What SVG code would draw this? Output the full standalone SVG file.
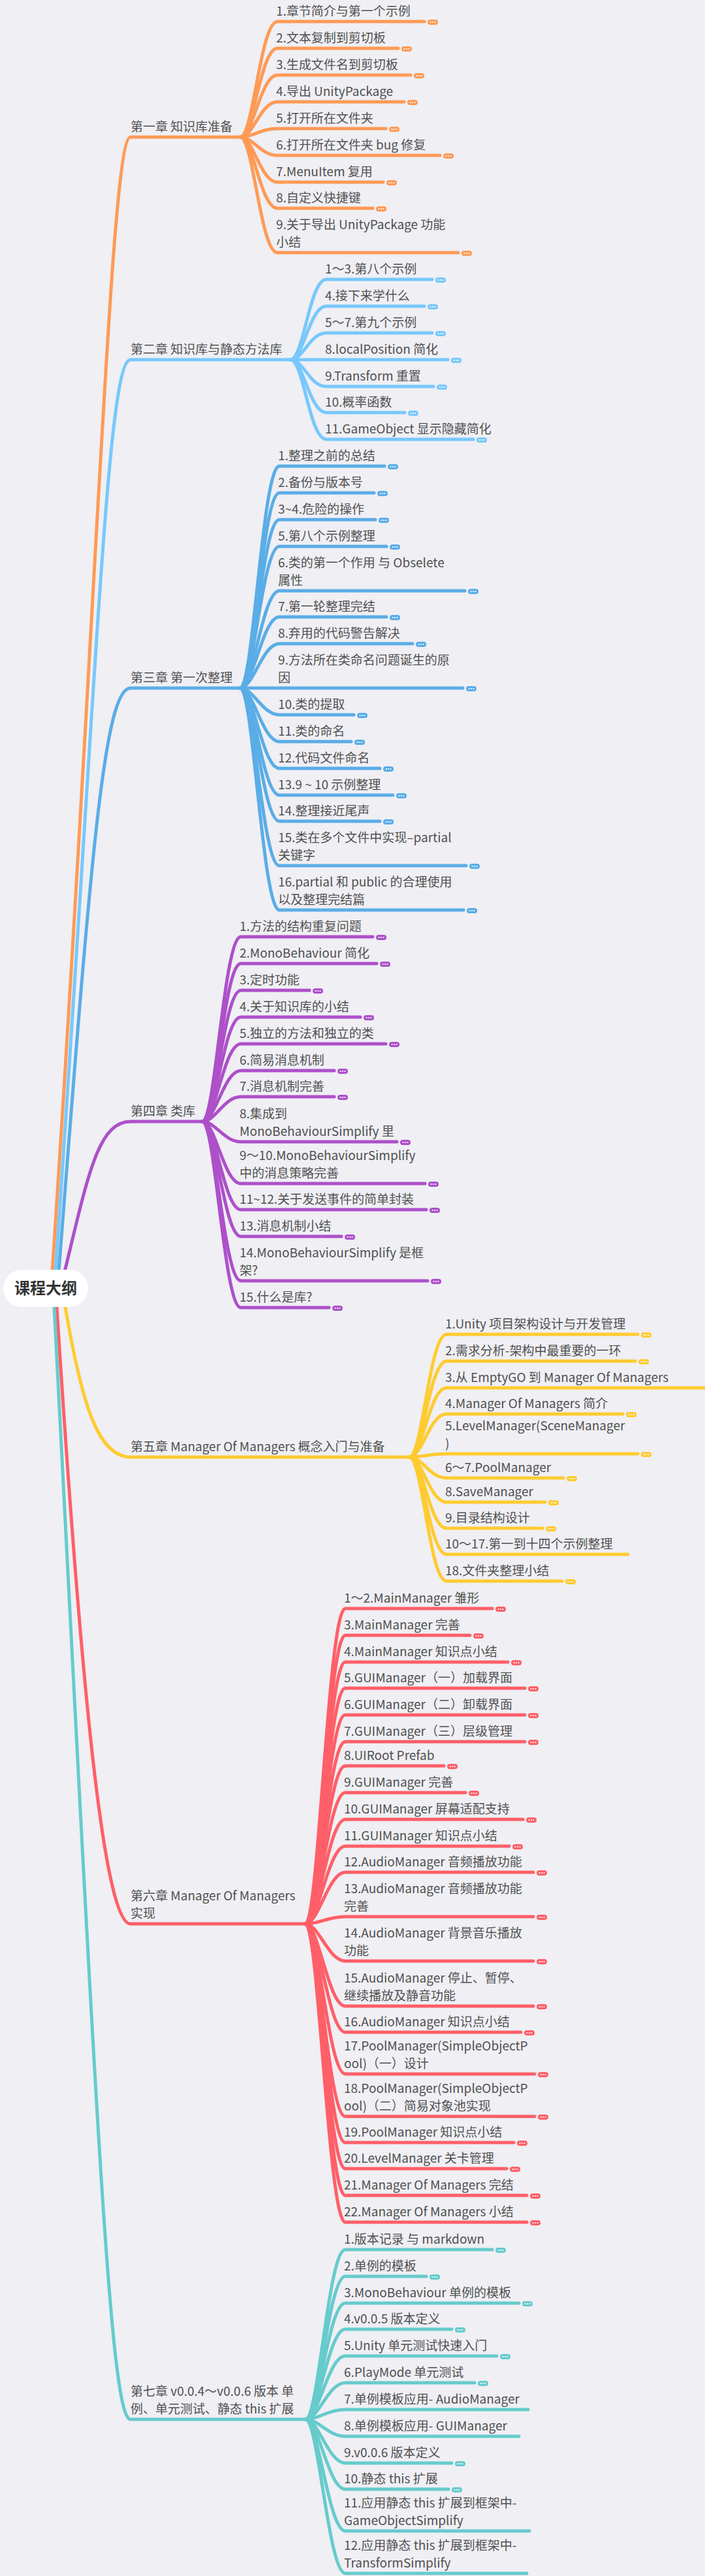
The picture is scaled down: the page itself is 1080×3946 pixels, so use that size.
<svg xmlns="http://www.w3.org/2000/svg" xmlns:xlink="http://www.w3.org/1999/xlink" width="1080" height="3946" viewBox="0 0 1080 3946">
<style>
.t{font-family:"Noto Sans CJK SC","Liberation Sans",sans-serif;font-size:19px;fill:#505050}
.r{font-family:"Noto Sans CJK SC","Liberation Sans",sans-serif;font-size:24px;font-weight:bold;fill:#333}
#cn path{fill:none;stroke-width:5;stroke-linecap:round;stroke-linejoin:round}
.c1{stroke:#ff9a56;color:#ff9a56}.c2{stroke:#78c8fb;color:#78c8fb}.c3{stroke:#5aade6;color:#5aade6}.c4{stroke:#ad50c9;color:#ad50c9}.c5{stroke:#ffcb30;color:#ffcb30}.c6{stroke:#ff5f68;color:#ff5f68}.c7{stroke:#66cbcc;color:#66cbcc}
</style>
<defs>
<symbol id="dt" overflow="visible"><rect x="0" y="0" width="16" height="8" rx="4" fill="currentColor"/><circle cx="4.6" cy="4" r="1.1" fill="#fff"/><circle cx="8" cy="4" r="1.1" fill="#fff"/><circle cx="11.4" cy="4" r="1.1" fill="#fff"/></symbol>
</defs>
<rect width="1080" height="3946" fill="#efeff4"/>
<g id="cn">
<path class="c1" d="M80 1948C150 900 170 210 200 210L368 210"/>
<path class="c2" d="M85 1948C150 1000 165 551 200 551L445 551"/>
<path class="c3" d="M90 1948C140 1300 160 1054 200 1054L368 1054"/>
<path class="c4" d="M99 1948C135 1800 150 1718 200 1718L310 1718"/>
<path class="c5" d="M100 2002C125 2150 150 2232 200 2232L627 2232"/>
<path class="c6" d="M87 2002C125 2600 160 2947 200 2947L468 2947"/>
<path class="c7" d="M83 2002C150 3300 170 3706 200 3706L468 3706"/>
<g class="c1">
<path d="M368 210C388 210 399 33 425 33L650 33"/><path d="M368 210C388 210 399 74 425 74L610 74"/><path d="M368 210C388 210 399 115 425 115L629 115"/><path d="M368 210C388 210 399 156 425 156L619 156"/><path d="M368 210C388 210 399 197 425 197L591 197"/><path d="M368 210C388 210 399 238 425 238L674 238"/><path d="M368 210C388 210 399 279 425 279L587 279"/><path d="M368 210C388 210 399 319 425 319L571 319"/><path d="M368 210C388 210 399 387 425 387L702 387"/>
</g>
<g class="c2">
<path d="M445 551C465 551 474 428 500 428L662 428"/><path d="M445 551C465 551 474 469 500 469L650 469"/><path d="M445 551C465 551 474 510 500 510L662 510"/><path d="M445 551L686 551"/><path d="M445 551C465 551 474 592 500 592L664 592"/><path d="M445 551C465 551 474 632 500 632L620 632"/><path d="M445 551C465 551 474 673 500 673L725 673"/>
</g>
<g class="c3">
<path d="M368 1054C388 1054 402 714 428 714L589 714"/><path d="M368 1054C388 1054 402 755 428 755L573 755"/><path d="M368 1054C388 1054 402 796 428 796L575 796"/><path d="M368 1054C388 1054 402 837 428 837L592 837"/><path d="M368 1054C388 1054 402 905 428 905L712 905"/><path d="M368 1054C388 1054 402 945 428 945L592 945"/><path d="M368 1054C388 1054 402 986 428 986L632 986"/><path d="M368 1054L709 1054"/><path d="M368 1054C388 1054 402 1095 428 1095L542 1095"/><path d="M368 1054C388 1054 402 1136 428 1136L538 1136"/><path d="M368 1054C388 1054 402 1177 428 1177L582 1177"/><path d="M368 1054C388 1054 402 1218 428 1218L602 1218"/><path d="M368 1054C388 1054 402 1258 428 1258L582 1258"/><path d="M368 1054C388 1054 402 1326 428 1326L714 1326"/><path d="M368 1054C388 1054 402 1394 428 1394L710 1394"/>
</g>
<g class="c4">
<path d="M310 1718C330 1718 343 1435 369 1435L571 1435"/><path d="M310 1718C330 1718 343 1476 369 1476L577 1476"/><path d="M310 1718C330 1718 343 1517 369 1517L474 1517"/><path d="M310 1718C330 1718 343 1558 369 1558L552 1558"/><path d="M310 1718C330 1718 343 1599 369 1599L591 1599"/><path d="M310 1718C330 1718 343 1640 369 1640L512 1640"/><path d="M310 1718C330 1718 343 1680 369 1680L512 1680"/><path d="M310 1718C330 1718 343 1749 369 1749L608 1749"/><path d="M310 1718C330 1718 343 1813 369 1813L651 1813"/><path d="M310 1718C330 1718 343 1853 369 1853L653 1853"/><path d="M310 1718C330 1718 343 1894 369 1894L523 1894"/><path d="M310 1718C330 1718 343 1962 369 1962L655 1962"/><path d="M310 1718C330 1718 343 2003 369 2003L504 2003"/>
</g>
<g class="c5">
<path d="M627 2232C647 2232 658 2044 684 2044L977 2044"/><path d="M627 2232C647 2232 658 2085 684 2085L973 2085"/><path d="M627 2232C647 2232 658 2126 684 2126L1080 2126"/><path d="M627 2232C647 2232 658 2166 684 2166L954 2166"/><path d="M627 2232C647 2232 658 2227 684 2227L977 2227"/><path d="M627 2232C647 2232 658 2264 684 2264L863 2264"/><path d="M627 2232C647 2232 658 2301 684 2301L835 2301"/><path d="M627 2232C647 2232 658 2341 684 2341L831 2341"/><path d="M627 2232C647 2232 658 2381 684 2381L962 2381"/><path d="M627 2232C647 2232 658 2422 684 2422L861 2422"/>
</g>
<g class="c6">
<path d="M468 2947C488 2947 503 2464 529 2464L754 2464"/><path d="M468 2947C488 2947 503 2505 529 2505L720 2505"/><path d="M468 2947C488 2947 503 2546 529 2546L778 2546"/><path d="M468 2947C488 2947 503 2586 529 2586L804 2586"/><path d="M468 2947C488 2947 503 2627 529 2627L804 2627"/><path d="M468 2947C488 2947 503 2668 529 2668L804 2668"/><path d="M468 2947C488 2947 503 2705 529 2705L680 2705"/><path d="M468 2947C488 2947 503 2746 529 2746L713 2746"/><path d="M468 2947C488 2947 503 2787 529 2787L801 2787"/><path d="M468 2947C488 2947 503 2828 529 2828L780 2828"/><path d="M468 2947C488 2947 503 2868 529 2868L817 2868"/><path d="M468 2947C488 2947 503 2936 529 2936L817 2936"/><path d="M468 2947C488 2947 503 3004 529 3004L817 3004"/><path d="M468 2947C488 2947 503 3073 529 3073L817 3073"/><path d="M468 2947C488 2947 503 3113 529 3113L798 3113"/><path d="M468 2947C488 2947 503 3177 529 3177L819 3177"/><path d="M468 2947C488 2947 503 3242 529 3242L819 3242"/><path d="M468 2947C488 2947 503 3282 529 3282L787 3282"/><path d="M468 2947C488 2947 503 3322 529 3322L776 3322"/><path d="M468 2947C488 2947 503 3363 529 3363L807 3363"/><path d="M468 2947C488 2947 503 3404 529 3404L807 3404"/>
</g>
<g class="c7">
<path d="M468 3706C488 3706 503 3446 529 3446L754 3446"/><path d="M468 3706C488 3706 503 3487 529 3487L653 3487"/><path d="M468 3706C488 3706 503 3528 529 3528L795 3528"/><path d="M468 3706C488 3706 503 3568 529 3568L692 3568"/><path d="M468 3706C488 3706 503 3609 529 3609L761 3609"/><path d="M468 3706C488 3706 503 3650 529 3650L727 3650"/><path d="M468 3706C488 3706 503 3691 529 3691L809 3691"/><path d="M468 3706C488 3706 503 3732 529 3732L795 3732"/><path d="M468 3706C488 3706 503 3773 529 3773L692 3773"/><path d="M468 3706C488 3706 503 3813 529 3813L687 3813"/><path d="M468 3706C488 3706 503 3877 529 3877L811 3877"/><path d="M468 3706C488 3706 503 3942 529 3942L807 3942"/>
</g>
</g>
<g id="root"><rect x="5" y="1945" width="130" height="57" rx="28" fill="#fff"/><text class="r" x="70" y="1982" text-anchor="middle">课程大纲</text></g>
<g id="ch1"><text class="t" x="200" y="201">第一章 知识库准备</text></g>
<g id="ch2"><text class="t" x="200" y="542">第二章 知识库与静态方法库</text></g>
<g id="ch3"><text class="t" x="200" y="1045">第三章 第一次整理</text></g>
<g id="ch4"><text class="t" x="200" y="1709">第四章 类库</text></g>
<g id="ch5"><text class="t" x="200" y="2223">第五章 Manager Of Managers 概念入门与准备</text></g>
<g id="ch6"><text class="t" x="200" y="2911">第六章 Manager Of Managers</text><text class="t" x="200" y="2938">实现</text></g>
<g id="ch7"><text class="t" x="200" y="3670">第七章 v0.0.4～v0.0.6 版本 单</text><text class="t" x="200" y="3697">例、单元测试、静态 this 扩展</text></g>
<g id="ch1-leaves" color="#ff9a56">
<g id="n1-1"><text class="t" x="423" y="24">1.章节简介与第一个示例</text><use href="#dt" x="655" y="30"/></g>
<g id="n1-2"><text class="t" x="423" y="65">2.文本复制到剪切板</text><use href="#dt" x="615" y="71"/></g>
<g id="n1-3"><text class="t" x="423" y="106">3.生成文件名到剪切板</text><use href="#dt" x="634" y="112"/></g>
<g id="n1-4"><text class="t" x="423" y="147">4.导出 UnityPackage</text><use href="#dt" x="624" y="153"/></g>
<g id="n1-5"><text class="t" x="423" y="188">5.打开所在文件夹</text><use href="#dt" x="596" y="194"/></g>
<g id="n1-6"><text class="t" x="423" y="229">6.打开所在文件夹 bug 修复</text><use href="#dt" x="679" y="235"/></g>
<g id="n1-7"><text class="t" x="423" y="270">7.MenuItem 复用</text><use href="#dt" x="592" y="276"/></g>
<g id="n1-8"><text class="t" x="423" y="310">8.自定义快捷键</text><use href="#dt" x="576" y="316"/></g>
<g id="n1-9"><text class="t" x="423" y="351">9.关于导出 UnityPackage 功能</text><text class="t" x="423" y="378">小结</text><use href="#dt" x="707" y="384"/></g>
</g>
<g id="ch2-leaves" color="#78c8fb">
<g id="n2-1"><text class="t" x="498" y="419">1～3.第八个示例</text><use href="#dt" x="667" y="425"/></g>
<g id="n2-2"><text class="t" x="498" y="460">4.接下来学什么</text><use href="#dt" x="655" y="466"/></g>
<g id="n2-3"><text class="t" x="498" y="501">5～7.第九个示例</text><use href="#dt" x="667" y="507"/></g>
<g id="n2-4"><text class="t" x="498" y="542">8.localPosition 简化</text><use href="#dt" x="691" y="548"/></g>
<g id="n2-5"><text class="t" x="498" y="583">9.Transform 重置</text><use href="#dt" x="669" y="589"/></g>
<g id="n2-6"><text class="t" x="498" y="623">10.概率函数</text><use href="#dt" x="625" y="629"/></g>
<g id="n2-7"><text class="t" x="498" y="664">11.GameObject 显示隐藏简化</text><use href="#dt" x="730" y="670"/></g>
</g>
<g id="ch3-leaves" color="#5aade6">
<g id="n3-1"><text class="t" x="426" y="705">1.整理之前的总结</text><use href="#dt" x="594" y="711"/></g>
<g id="n3-2"><text class="t" x="426" y="746">2.备份与版本号</text><use href="#dt" x="578" y="752"/></g>
<g id="n3-3"><text class="t" x="426" y="787">3~4.危险的操作</text><use href="#dt" x="580" y="793"/></g>
<g id="n3-4"><text class="t" x="426" y="828">5.第八个示例整理</text><use href="#dt" x="597" y="834"/></g>
<g id="n3-5"><text class="t" x="426" y="869">6.类的第一个作用 与 Obselete</text><text class="t" x="426" y="896">属性</text><use href="#dt" x="717" y="902"/></g>
<g id="n3-6"><text class="t" x="426" y="936">7.第一轮整理完结</text><use href="#dt" x="597" y="942"/></g>
<g id="n3-7"><text class="t" x="426" y="977">8.弃用的代码警告解决</text><use href="#dt" x="637" y="983"/></g>
<g id="n3-8"><text class="t" x="426" y="1018">9.方法所在类命名问题诞生的原</text><text class="t" x="426" y="1045">因</text><use href="#dt" x="714" y="1051"/></g>
<g id="n3-9"><text class="t" x="426" y="1086">10.类的提取</text><use href="#dt" x="547" y="1092"/></g>
<g id="n3-10"><text class="t" x="426" y="1127">11.类的命名</text><use href="#dt" x="543" y="1133"/></g>
<g id="n3-11"><text class="t" x="426" y="1168">12.代码文件命名</text><use href="#dt" x="587" y="1174"/></g>
<g id="n3-12"><text class="t" x="426" y="1209">13.9 ~ 10 示例整理</text><use href="#dt" x="607" y="1215"/></g>
<g id="n3-13"><text class="t" x="426" y="1249">14.整理接近尾声</text><use href="#dt" x="587" y="1255"/></g>
<g id="n3-14"><text class="t" x="426" y="1290">15.类在多个文件中实现–partial</text><text class="t" x="426" y="1317">关键字</text><use href="#dt" x="719" y="1323"/></g>
<g id="n3-15"><text class="t" x="426" y="1358">16.partial 和 public 的合理使用</text><text class="t" x="426" y="1385">以及整理完结篇</text><use href="#dt" x="715" y="1391"/></g>
</g>
<g id="ch4-leaves" color="#ad50c9">
<g id="n4-1"><text class="t" x="367" y="1426">1.方法的结构重复问题</text><use href="#dt" x="576" y="1432"/></g>
<g id="n4-2"><text class="t" x="367" y="1467">2.MonoBehaviour 简化</text><use href="#dt" x="582" y="1473"/></g>
<g id="n4-3"><text class="t" x="367" y="1508">3.定时功能</text><use href="#dt" x="479" y="1514"/></g>
<g id="n4-4"><text class="t" x="367" y="1549">4.关于知识库的小结</text><use href="#dt" x="557" y="1555"/></g>
<g id="n4-5"><text class="t" x="367" y="1590">5.独立的方法和独立的类</text><use href="#dt" x="596" y="1596"/></g>
<g id="n4-6"><text class="t" x="367" y="1631">6.简易消息机制</text><use href="#dt" x="517" y="1637"/></g>
<g id="n4-7"><text class="t" x="367" y="1671">7.消息机制完善</text><use href="#dt" x="517" y="1677"/></g>
<g id="n4-8"><text class="t" x="367" y="1713">8.集成到</text><text class="t" x="367" y="1740">MonoBehaviourSimplify 里</text><use href="#dt" x="613" y="1746"/></g>
<g id="n4-9"><text class="t" x="367" y="1777">9～10.MonoBehaviourSimplify</text><text class="t" x="367" y="1804">中的消息策略完善</text><use href="#dt" x="656" y="1810"/></g>
<g id="n4-10"><text class="t" x="367" y="1844">11~12.关于发送事件的简单封装</text><use href="#dt" x="658" y="1850"/></g>
<g id="n4-11"><text class="t" x="367" y="1885">13.消息机制小结</text><use href="#dt" x="528" y="1891"/></g>
<g id="n4-12"><text class="t" x="367" y="1926">14.MonoBehaviourSimplify 是框</text><text class="t" x="367" y="1953">架?</text><use href="#dt" x="660" y="1959"/></g>
<g id="n4-13"><text class="t" x="367" y="1994">15.什么是库?</text><use href="#dt" x="509" y="2000"/></g>
</g>
<g id="ch5-leaves" color="#ffcb30">
<g id="n5-1"><text class="t" x="682" y="2035">1.Unity 项目架构设计与开发管理</text><use href="#dt" x="982" y="2041"/></g>
<g id="n5-2"><text class="t" x="682" y="2076">2.需求分析-架构中最重要的一环</text><use href="#dt" x="978" y="2082"/></g>
<g id="n5-3"><text class="t" x="682" y="2117">3.从 EmptyGO 到 Manager Of Managers</text></g>
<g id="n5-4"><text class="t" x="682" y="2157">4.Manager Of Managers 简介</text><use href="#dt" x="959" y="2163"/></g>
<g id="n5-5"><text class="t" x="682" y="2191">5.LevelManager(SceneManager</text><text class="t" x="682" y="2218">)</text><use href="#dt" x="982" y="2224"/></g>
<g id="n5-6"><text class="t" x="682" y="2255">6～7.PoolManager</text><use href="#dt" x="868" y="2261"/></g>
<g id="n5-7"><text class="t" x="682" y="2292">8.SaveManager</text><use href="#dt" x="840" y="2298"/></g>
<g id="n5-8"><text class="t" x="682" y="2332">9.目录结构设计</text><use href="#dt" x="836" y="2338"/></g>
<g id="n5-9"><text class="t" x="682" y="2372">10～17.第一到十四个示例整理</text></g>
<g id="n5-10"><text class="t" x="682" y="2413">18.文件夹整理小结</text><use href="#dt" x="866" y="2419"/></g>
</g>
<g id="ch6-leaves" color="#ff5f68">
<g id="n6-1"><text class="t" x="527" y="2455">1～2.MainManager 雏形</text><use href="#dt" x="759" y="2461"/></g>
<g id="n6-2"><text class="t" x="527" y="2496">3.MainManager 完善</text><use href="#dt" x="725" y="2502"/></g>
<g id="n6-3"><text class="t" x="527" y="2537">4.MainManager 知识点小结</text><use href="#dt" x="783" y="2543"/></g>
<g id="n6-4"><text class="t" x="527" y="2577">5.GUIManager（一）加载界面</text><use href="#dt" x="809" y="2583"/></g>
<g id="n6-5"><text class="t" x="527" y="2618">6.GUIManager（二）卸载界面</text><use href="#dt" x="809" y="2624"/></g>
<g id="n6-6"><text class="t" x="527" y="2659">7.GUIManager（三）层级管理</text><use href="#dt" x="809" y="2665"/></g>
<g id="n6-7"><text class="t" x="527" y="2696">8.UIRoot Prefab</text><use href="#dt" x="685" y="2702"/></g>
<g id="n6-8"><text class="t" x="527" y="2737">9.GUIManager 完善</text><use href="#dt" x="718" y="2743"/></g>
<g id="n6-9"><text class="t" x="527" y="2778">10.GUIManager 屏幕适配支持</text><use href="#dt" x="806" y="2784"/></g>
<g id="n6-10"><text class="t" x="527" y="2819">11.GUIManager 知识点小结</text><use href="#dt" x="785" y="2825"/></g>
<g id="n6-11"><text class="t" x="527" y="2859">12.AudioManager 音频播放功能</text><use href="#dt" x="822" y="2865"/></g>
<g id="n6-12"><text class="t" x="527" y="2900">13.AudioManager 音频播放功能</text><text class="t" x="527" y="2927">完善</text><use href="#dt" x="822" y="2933"/></g>
<g id="n6-13"><text class="t" x="527" y="2968">14.AudioManager 背景音乐播放</text><text class="t" x="527" y="2995">功能</text><use href="#dt" x="822" y="3001"/></g>
<g id="n6-14"><text class="t" x="527" y="3037">15.AudioManager 停止、暂停、</text><text class="t" x="527" y="3064">继续播放及静音功能</text><use href="#dt" x="822" y="3070"/></g>
<g id="n6-15"><text class="t" x="527" y="3104">16.AudioManager 知识点小结</text><use href="#dt" x="803" y="3110"/></g>
<g id="n6-16"><text class="t" x="527" y="3141">17.PoolManager(SimpleObjectP</text><text class="t" x="527" y="3168">ool)（一）设计</text><use href="#dt" x="824" y="3174"/></g>
<g id="n6-17"><text class="t" x="527" y="3206">18.PoolManager(SimpleObjectP</text><text class="t" x="527" y="3233">ool)（二）简易对象池实现</text><use href="#dt" x="824" y="3239"/></g>
<g id="n6-18"><text class="t" x="527" y="3273">19.PoolManager 知识点小结</text><use href="#dt" x="792" y="3279"/></g>
<g id="n6-19"><text class="t" x="527" y="3313">20.LevelManager 关卡管理</text><use href="#dt" x="781" y="3319"/></g>
<g id="n6-20"><text class="t" x="527" y="3354">21.Manager Of Managers 完结</text><use href="#dt" x="812" y="3360"/></g>
<g id="n6-21"><text class="t" x="527" y="3395">22.Manager Of Managers 小结</text><use href="#dt" x="812" y="3401"/></g>
</g>
<g id="ch7-leaves" color="#66cbcc">
<g id="n7-1"><text class="t" x="527" y="3437">1.版本记录 与 markdown</text><use href="#dt" x="759" y="3443"/></g>
<g id="n7-2"><text class="t" x="527" y="3478">2.单例的模板</text><use href="#dt" x="658" y="3484"/></g>
<g id="n7-3"><text class="t" x="527" y="3519">3.MonoBehaviour 单例的模板</text><use href="#dt" x="800" y="3525"/></g>
<g id="n7-4"><text class="t" x="527" y="3559">4.v0.0.5 版本定义</text><use href="#dt" x="697" y="3565"/></g>
<g id="n7-5"><text class="t" x="527" y="3600">5.Unity 单元测试快速入门</text><use href="#dt" x="766" y="3606"/></g>
<g id="n7-6"><text class="t" x="527" y="3641">6.PlayMode 单元测试</text><use href="#dt" x="732" y="3647"/></g>
<g id="n7-7"><text class="t" x="527" y="3682">7.单例模板应用- AudioManager</text></g>
<g id="n7-8"><text class="t" x="527" y="3723">8.单例模板应用- GUIManager</text></g>
<g id="n7-9"><text class="t" x="527" y="3764">9.v0.0.6 版本定义</text><use href="#dt" x="697" y="3770"/></g>
<g id="n7-10"><text class="t" x="527" y="3804">10.静态 this 扩展</text><use href="#dt" x="692" y="3810"/></g>
<g id="n7-11"><text class="t" x="527" y="3841">11.应用静态 this 扩展到框架中-</text><text class="t" x="527" y="3868">GameObjectSimplify</text></g>
<g id="n7-12"><text class="t" x="527" y="3906">12.应用静态 this 扩展到框架中-</text><text class="t" x="527" y="3933">TransformSimplify</text></g>
</g>
</svg>
